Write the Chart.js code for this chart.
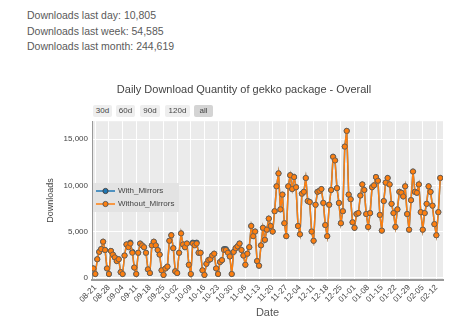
<!DOCTYPE html>
<html>
<head>
<meta charset="utf-8">
<script src="https://cdn.jsdelivr.net/npm/chart.js@4.4.1/dist/chart.umd.min.js"></script>
<style>
  body { margin: 0; width: 474px; height: 335px; background: #fff; position: relative; overflow: hidden;
         font-family: "Liberation Sans", Arial, sans-serif; }
  .stat { position: absolute; left: 27px; font-size: 10.5px; color: #5a5a5a; white-space: nowrap; }
  #wrap { position: absolute; left: 0; top: 0; width: 474px; height: 335px; }
  .btn { position: absolute; top: 105px; height: 12px; line-height: 12px; font-size: 8px; color: #444;
         background: #eeeeee; border-radius: 2px; text-align: center; z-index: 2; }
  .btn.on { background: #d4d4d4; }
</style>
</head>
<body>
<div class="stat" style="top:9px">Downloads last day: 10,805</div>
<div class="stat" style="top:25px">Downloads last week: 54,585</div>
<div class="stat" style="top:40px">Downloads last month: 244,619</div>

<div class="btn" style="left:93px;width:19px">30d</div>
<div class="btn" style="left:116px;width:19px">60d</div>
<div class="btn" style="left:140px;width:20px">90d</div>
<div class="btn" style="left:165px;width:25px">120d</div>
<div class="btn on" style="left:194px;width:19px">all</div>

<div id="wrap"><canvas id="chart"></canvas></div>

<script>
// daily downloads, starting 2022-08-20
const withoutMirrors = [
  1000, 400, 2000, 2800, 3100, 3900, 3000, 1000, 400, 2900,
  2500, 2200, 1800, 2000, 600, 400, 2400, 3600, 3300, 3700,
  2700, 1100, 400, 2700, 3700, 3500, 3300, 2700, 900, 500,
  3500, 3900, 3500, 3000, 2500, 800, 300, 1000, 1200, 4000,
  4600, 3200, 700, 500, 2700, 4800, 3600, 3300, 3700, 1400,
  400, 3700, 3500, 3700, 2700, 2700, 800, 300, 1500, 1900,
  2000, 2400, 2600, 1000, 400, 1700, 1900, 3000, 3000, 2700,
  2300, 400, 2800, 3200, 3400, 3700, 3000, 2400, 1400, 2600,
  3300, 5600, 4500, 5000, 1800, 1300, 3500, 5400, 4100, 5200,
  6400, 5600, 5000, 7200, 9900, 11300, 7400, 9000, 5900, 4500,
  9900, 11100, 9600, 10900, 9800, 5600, 4700, 9100, 9300, 10800,
  8300, 8200, 5000, 4000, 7900, 9300, 9400, 9600, 8100, 5700,
  4500, 7900, 9500, 13100, 12700, 9700, 8100, 5900, 7200, 14200,
  15900, 9000, 8500, 6000, 5400, 6900, 7000, 8900, 10100, 9500,
  6900, 5500, 7000, 9800, 10000, 10900, 10500, 6800, 5100, 8300,
  10300, 10800, 10100, 8000, 7000, 5500, 7400, 9300, 9200, 8800,
  9900, 6900, 5200, 8400, 11500, 9300, 9200, 10100, 7100, 5200,
  7000, 8000, 9900, 9300, 7800, 5800, 4600, 7100, 10805
];
const withMirrors = [
  1000, 400, 2000, 2800, 3100, 3900, 3000, 1000, 400, 2900,
  2500, 2200, 1800, 2000, 600, 400, 2400, 3600, 3400, 3800,
  2800, 1100, 400, 2700, 3700, 3500, 3300, 2700, 900, 500,
  3500, 3900, 3500, 3000, 2500, 800, 300, 1000, 1200, 4000,
  4600, 3200, 700, 500, 2700, 4800, 3600, 3300, 3700, 1400,
  400, 3800, 3700, 3800, 2700, 2700, 800, 300, 1500, 1900,
  2000, 2400, 2600, 1000, 400, 1700, 1900, 3100, 3100, 2800,
  2300, 400, 2800, 3200, 3400, 3700, 3000, 2400, 1400, 2600,
  3300, 5600, 4500, 5000, 1800, 1300, 3500, 5400, 4100, 5200,
  6400, 5600, 5000, 7200, 9900, 11300, 7400, 9000, 5900, 4500,
  9900, 11100, 9600, 10900, 9800, 5600, 4700, 9100, 9300, 10800,
  8300, 8200, 5000, 4000, 7900, 9300, 9400, 9600, 8100, 5700,
  4500, 7900, 9500, 13100, 12700, 9700, 8100, 5900, 7200, 14200,
  15900, 9000, 8500, 6000, 5400, 6900, 7000, 8900, 10100, 9500,
  6900, 5500, 7000, 9800, 10000, 10900, 10500, 6800, 5100, 8300,
  10300, 10800, 10100, 8000, 7000, 5500, 7400, 9300, 9200, 8800,
  9900, 6900, 5200, 8400, 11500, 9300, 9200, 10100, 7100, 5200,
  7000, 8000, 9900, 9300, 7800, 5800, 4600, 7100, 10805
];
const yTicks = [0, 5000, 10000, 15000];

// MM-DD labels for each day
const dates = [];
const start = Date.UTC(2022, 7, 20);
for (let i = 0; i < withoutMirrors.length; i++) {
  const d = new Date(start + i * 86400000);
  dates.push(String(d.getUTCMonth() + 1).padStart(2, '0') + '-' + String(d.getUTCDate()).padStart(2, '0'));
}

const plotBg = {
  id: 'plotBg',
  beforeDraw(chart) {
    const a = chart.chartArea, ctx = chart.ctx;
    ctx.save();
    ctx.fillStyle = '#ebebeb';
    ctx.fillRect(a.left, a.top, a.right - a.left, a.bottom - a.top);
    ctx.restore();
  }
};

// legend box sitting inside the plot, like the plotly one
const insideLegend = {
  id: 'insideLegend',
  afterDraw(chart) {
    const ctx = chart.ctx;
    ctx.save();
    ctx.fillStyle = '#e3e3e3';
    ctx.fillRect(93, 183, 86, 29);
    chart.data.datasets.forEach((ds, i) => {
      const y = 191 + i * 13;
      ctx.strokeStyle = ds.borderColor;
      ctx.lineWidth = 1.5;
      ctx.beginPath(); ctx.moveTo(96, y); ctx.lineTo(115, y); ctx.stroke();
      ctx.fillStyle = ds.pointBackgroundColor;
      ctx.strokeStyle = ds.pointBorderColor;
      ctx.lineWidth = 1;
      ctx.beginPath(); ctx.arc(105.5, y, 2.6, 0, Math.PI * 2); ctx.fill(); ctx.stroke();
      ctx.fillStyle = '#444';
      ctx.font = '8px "Liberation Sans", Arial, sans-serif';
      ctx.textBaseline = 'middle';
      ctx.fillText(ds.label, 118, y);
    });
    ctx.restore();
  }
};

new Chart(document.getElementById('chart'), {
  type: 'line',
  data: {
    datasets: [{
      label: 'With_Mirrors',
      data: withMirrors.map((v, i) => ({ x: i, y: v })),
      borderColor: '#1f77b4',
      borderWidth: 1.5,
      pointBackgroundColor: '#1f77b4',
      pointBorderColor: '#444',
      pointBorderWidth: 0.8,
      pointRadius: 2.6,
      order: 1
    }, {
      label: 'Without_Mirrors',
      data: withoutMirrors.map((v, i) => ({ x: i, y: v })),
      borderColor: '#ff7f0e',
      borderWidth: 1.5,
      pointBackgroundColor: '#ff7f0e',
      pointBorderColor: '#5a5a5a',
      pointBorderWidth: 0.8,
      pointRadius: 2.6,
      order: 0
    }]
  },
  options: {
    responsive: true,
    maintainAspectRatio: false,
    animation: false,
    layout: { padding: { left: 45, right: 31, top: 83, bottom: 11 } },
    plugins: {
      legend: { display: false },
      tooltip: { enabled: false },
      title: {
        display: true,
        text: 'Daily Download Quantity of gekko package - Overall',
        color: '#444',
        font: { family: '"Liberation Sans", Arial, sans-serif', size: 11, weight: 'normal' },
        padding: { top: 0, bottom: 25 }
      }
    },
    scales: {
      x: {
        type: 'linear',
        min: -0.7,
        max: 179.4,
        afterFit: s => { s.height = 44; },
        afterBuildTicks: s => {
          s.ticks = dates.map((d, i) => i).filter(i => (i - 1) % 7 === 0).map(i => ({ value: i }));
        },
        grid: { color: '#fff', lineWidth: 1, drawTicks: false },
        border: { display: true, color: '#999', width: 2 },
        ticks: {
          autoSkip: false,
          minRotation: 45,
          maxRotation: 45,
          padding: 3,
          color: '#444',
          font: { family: '"Liberation Sans", Arial, sans-serif', size: 8 },
          callback: v => dates[v]
        },
        title: {
          display: true,
          text: 'Date',
          color: '#555',
          padding: { top: 0, bottom: 4 },
          font: { family: '"Liberation Sans", Arial, sans-serif', size: 11 }
        }
      },
      y: {
        min: -250,
        max: 16950,
        afterFit: s => { s.width = 47; },
        afterBuildTicks: s => { s.ticks = yTicks.map(v => ({ value: v })); },
        grid: { color: '#fff', lineWidth: 1, drawTicks: false },
        border: { display: true, color: '#999', width: 1 },
        ticks: {
          padding: 4,
          color: '#444',
          font: { family: '"Liberation Sans", Arial, sans-serif', size: 8 },
          callback: v => v.toLocaleString('en-US')
        },
        title: {
          display: true,
          text: 'Downloads',
          color: '#444',
          padding: { top: 0, bottom: 4 },
          font: { family: '"Liberation Sans", Arial, sans-serif', size: 9 }
        }
      }
    }
  },
  plugins: [plotBg, insideLegend]
});
</script>
</body>
</html>
